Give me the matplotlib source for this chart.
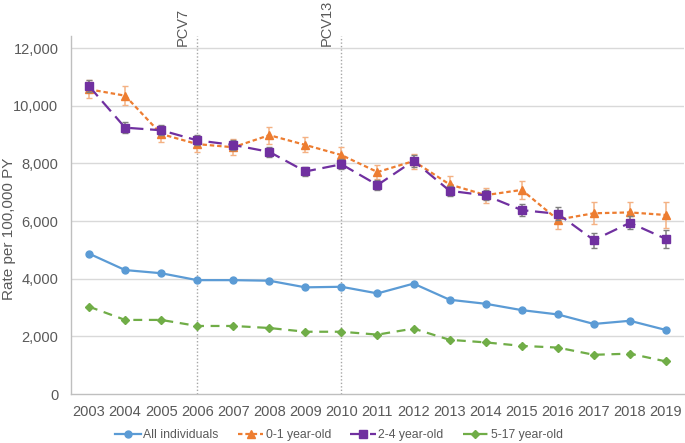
import matplotlib
matplotlib.use("Agg")
import matplotlib.pyplot as plt
from matplotlib.lines import Line2D

years = list(range(2003, 2020))
all_ind = [4870, 4300, 4190, 3950, 3950, 3930, 3700, 3720, 3490, 3830, 3270, 3130, 2910, 2760, 2430, 2540, 2220]
age01 = [10570, 10350, 9020, 8670, 8560, 8980, 8640, 8290, 7700, 8080, 7270, 6900, 7080, 6050, 6270, 6300, 6210]
age01_err = [310, 320, 270, 270, 270, 300, 260, 290, 250, 260, 290, 260, 300, 310, 375, 375, 450]
age24 = [10680, 9240, 9150, 8800, 8640, 8400, 7720, 7970, 7250, 8090, 7050, 6890, 6380, 6250, 5340, 5940, 5380]
age24_err = [200, 200, 180, 170, 170, 170, 170, 170, 170, 200, 170, 170, 200, 230, 260, 220, 310]
age517 = [3030, 2570, 2570, 2360, 2360, 2290, 2160, 2160, 2060, 2270, 1880, 1790, 1670, 1610, 1360, 1400, 1130]
yticks = [0, 2000, 4000, 6000, 8000, 10000, 12000]
vacc = [(2006, "PCV7"), (2010, "PCV13")]

plt.rcParams['font.family'] = ['Liberation Sans', 'DejaVu Sans']

fig = plt.figure(figsize=(6.85, 4.43), dpi=100)
ax = fig.add_axes([71/685, 1-394/443, (684-71)/685, (394-36)/443])

txt = '#595959'
for yv in yticks[1:]:
    ax.axhline(yv, color='#d9d9d9', lw=1.0, zorder=0)

for x, lab in vacc:
    ax.axvline(x, color='#a6a6a6', lw=1.0, ls=(0, (1, 1.5)), zorder=1)
    ax.text(x - 0.22, 12080, lab, rotation=90, ha='right', va='bottom',
            fontsize=10.5, color=txt, clip_on=False)

styles = [
    dict(color='#5B9BD5', ls='-', marker='o', ms=5, label='All individuals'),
    dict(color='#ED7D31', ls=(0, (2, 1.3)), marker='^', ms=5.5, label='0-1 year-old'),
    dict(color='#7030A0', ls=(0, (6, 3)), marker='s', ms=5.5, label='2-4 year-old'),
    dict(color='#70AD47', ls=(0, (4, 3)), marker='D', ms=4.5, label='5-17 year-old'),
]
lw = 1.6
ax.plot(years, all_ind, lw=lw, zorder=3, **styles[0])
ax.errorbar(years, age01, yerr=age01_err, lw=lw, ecolor='#F4B183', elinewidth=1.1,
            capsize=2.5, capthick=1.0, zorder=4, **styles[1])
ax.errorbar(years, age24, yerr=age24_err, lw=lw, ecolor='#7f7f7f', elinewidth=1.1,
            capsize=2.5, capthick=1.0, zorder=5, **styles[2])
ax.plot(years, age517, lw=lw, zorder=3, **styles[3])

ax.set_xlim(2002.5, 2019.5)
ax.set_ylim(0, 12420)
ax.set_yticks(yticks)
ax.set_yticklabels([f"{v:,}" for v in yticks])
ax.set_xticks(years)
ax.set_xticklabels([str(y) for y in years])
ax.tick_params(axis='both', length=0, labelsize=10.5, colors=txt)
ax.tick_params(axis='y', pad=9)
ax.tick_params(axis='x', pad=8)
for s in ['top', 'right']:
    ax.spines[s].set_visible(False)
for s in ['left', 'bottom']:
    ax.spines[s].set_color('#bfbfbf')
    ax.spines[s].set_linewidth(1.0)
fig.text(9.5/685, 1-229/443, 'Rate per 100,000 PY', rotation=90, ha='center', va='center',
         fontsize=11, color=txt)

handles = [Line2D([], [], lw=lw, **st) for st in styles]
fig.legend(handles=handles, loc='center', bbox_to_anchor=(339/685, 1-435/443),
           ncol=4, frameon=False, fontsize=8.8, handlelength=2.1, handletextpad=0.2,
           columnspacing=1.55, labelcolor=txt, borderaxespad=0, borderpad=0)
fig.savefig('out.png', dpi=100)
